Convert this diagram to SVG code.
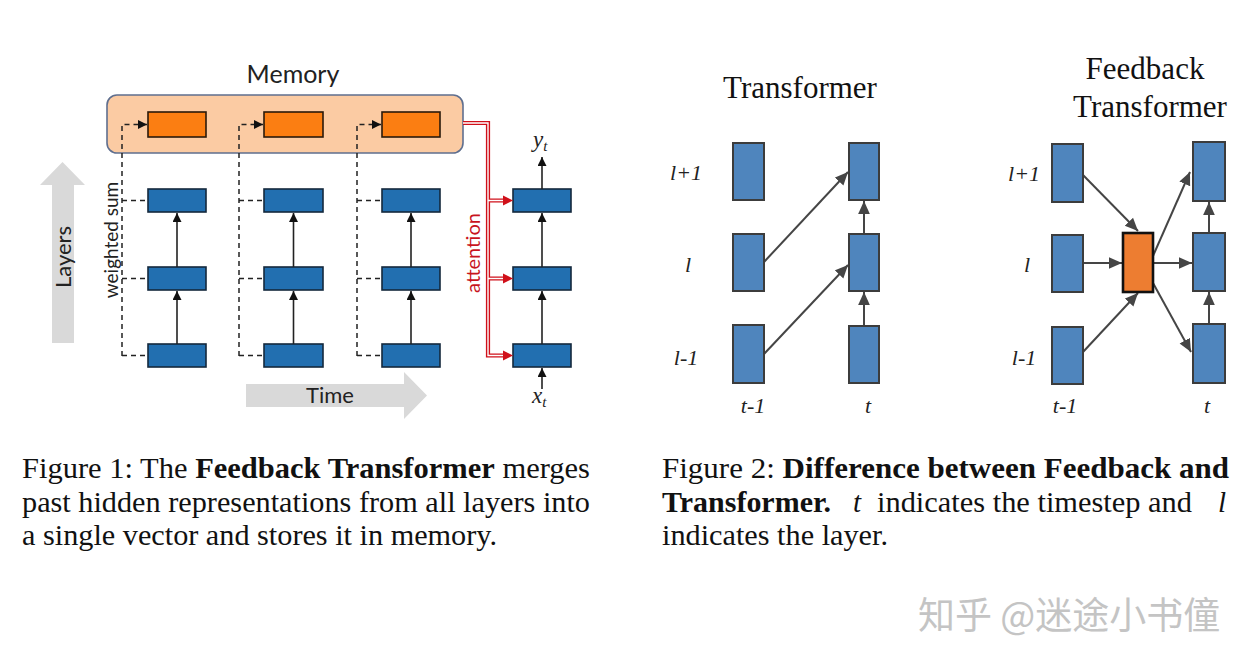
<svg xmlns="http://www.w3.org/2000/svg" width="1253" height="665" viewBox="0 0 1253 665">
<style>
.sans{font-family:Lato,"Open Sans","Liberation Sans",sans-serif}
.serif{font-family:"Liberation Serif","Times New Roman",serif}
.bl{fill:#226fb0;stroke:#14283c;stroke-width:1.6}
.or{fill:#fb7e12;stroke:#2a1a0a;stroke-width:1.6}
.sl{fill:none;stroke:#222;stroke-width:1.6}
.dl{fill:none;stroke:#222;stroke-width:1.5;stroke-dasharray:5 4}
.rb{fill:#4f85bd;stroke:#3c3c3c;stroke-width:2}
.ro{fill:#ed7d31;stroke:#111;stroke-width:2.6}
.ga{fill:none;stroke:#454545;stroke-width:2}
.cap{font-family:"Liberation Serif","Times New Roman",serif;font-size:29px;fill:#111}
</style>
<defs>
<marker id="ah" viewBox="0 0 10 10" refX="10" refY="5" markerWidth="9" markerHeight="9" markerUnits="userSpaceOnUse" orient="auto"><path d="M0,0 L10,5 L0,10 z" fill="#111"/></marker>
<marker id="ga" viewBox="0 0 10 10" refX="10" refY="5" markerWidth="13" markerHeight="13" markerUnits="userSpaceOnUse" orient="auto"><path d="M0,0.5 L10,5 L0,9.5 z" fill="#454545"/></marker>
</defs>
<rect width="1253" height="665" fill="#fff"/>

<!-- Figure 1 -->
<g id="layers-arrow">
<polygon points="52,343 52,185 40,185 62.5,162 85,185 74,185 74,343" fill="#d9d9d9"/>
<text class="sans" font-size="22" fill="#222" text-anchor="middle" transform="translate(71,257) rotate(-90)">Layers</text>
</g>
<g id="time-arrow">
<polygon points="246,384 404,384 404,372 427,395.5 404,419 404,407 246,407" fill="#d9d9d9"/>
<text class="sans" font-size="22" fill="#222" x="330" y="403" text-anchor="middle">Time</text>
</g>
<g id="memory">
<rect x="107" y="95" width="356" height="58" rx="10" fill="#fbcba3" stroke="#5f6f8f" stroke-width="1.6"/>
<text class="sans" font-size="25" fill="#222" x="293" y="83" text-anchor="middle">Memory</text>
<rect class="or" x="148" y="112" width="58" height="25"/>
<rect class="or" x="264" y="112" width="59" height="25"/>
<rect class="or" x="382" y="112" width="58" height="25"/>
</g>
<g id="col1">
<rect class="bl" x="148" y="189" width="58" height="23"/>
<rect class="bl" x="148" y="267" width="58" height="23"/>
<rect class="bl" x="148" y="344" width="58" height="23"/>
</g>
<g id="col2">
<rect class="bl" x="264" y="189" width="59" height="23"/>
<rect class="bl" x="264" y="267" width="59" height="23"/>
<rect class="bl" x="264" y="344" width="59" height="23"/>
</g>
<g id="col3">
<rect class="bl" x="382" y="189" width="58" height="23"/>
<rect class="bl" x="382" y="267" width="58" height="23"/>
<rect class="bl" x="382" y="344" width="58" height="23"/>
</g>
<g id="col4">
<rect class="bl" x="513" y="189" width="58" height="23"/>
<rect class="bl" x="513" y="267" width="58" height="23"/>
<rect class="bl" x="513" y="344" width="58" height="23"/>
<text class="serif" font-size="23" font-style="italic" fill="#222" x="533" y="147">y<tspan font-size="15" dy="4">t</tspan></text>
<text class="serif" font-size="23" font-style="italic" fill="#222" x="532" y="403">x<tspan font-size="15" dy="4">t</tspan></text>
</g>
<g id="labels1">
<text class="sans" font-size="19" fill="#222" text-anchor="middle" transform="translate(118,240) rotate(-90)">weighted sum</text>
<text class="sans" font-size="20" fill="#c8141e" text-anchor="middle" transform="translate(480,253) rotate(-90)">attention</text>
</g>
<g id="connectors">
<!-- vertical solid arrows -->
<path class="sl" d="M177,344 V291" marker-end="url(#ah)"/>
<path class="sl" d="M177,267 V213" marker-end="url(#ah)"/>
<path class="sl" d="M293.5,344 V291" marker-end="url(#ah)"/>
<path class="sl" d="M293.5,267 V213" marker-end="url(#ah)"/>
<path class="sl" d="M411,344 V291" marker-end="url(#ah)"/>
<path class="sl" d="M411,267 V213" marker-end="url(#ah)"/>
<path class="sl" d="M542,344 V291" marker-end="url(#ah)"/>
<path class="sl" d="M542,267 V213" marker-end="url(#ah)"/>
<path class="sl" d="M542,189 V157" marker-end="url(#ah)"/>
<path class="sl" d="M542,389 V368" marker-end="url(#ah)"/>
<!-- dashed weighted-sum lines -->
<path class="dl" d="M122,356 V124.5 H147" marker-end="url(#ah)"/>
<path class="dl" d="M122,200.5 H148 M122,278.5 H148 M122,355.5 H148"/>
<path class="dl" d="M239,356 V124.5 H263" marker-end="url(#ah)"/>
<path class="dl" d="M239,200.5 H264 M239,278.5 H264 M239,355.5 H264"/>
<path class="dl" d="M357,356 V124.5 H381" marker-end="url(#ah)"/>
<path class="dl" d="M357,200.5 H382 M357,278.5 H382 M357,355.5 H382"/>
<!-- red attention double line -->
<path d="M463,123 H488 V355.5 H506 M488,200.5 H506 M488,278.5 H506" fill="none" stroke="#d0101a" stroke-width="4.2"/>
<path d="M463,123 H488 V355.5 H506 M488,200.5 H506 M488,278.5 H506" fill="none" stroke="#fff" stroke-width="1.4"/>
<polygon points="503,195.5 513,200.5 503,205.5" fill="#d0101a"/>
<polygon points="503,273.5 513,278.5 503,283.5" fill="#d0101a"/>
<polygon points="503,350.5 513,355.5 503,360.5" fill="#d0101a"/>
<!-- Figure 2 transformer arrows -->
<path class="ga" d="M764,262 L848,172" marker-end="url(#ga)"/>
<path class="ga" d="M764,354 L848,265" marker-end="url(#ga)"/>
<path class="ga" d="M864,326 V292" marker-end="url(#ga)"/>
<path class="ga" d="M864,234 V201" marker-end="url(#ga)"/>
<!-- Figure 2 feedback arrows -->
<path class="ga" d="M1083,175 L1138,231" marker-end="url(#ga)"/>
<path class="ga" d="M1083,263 L1122,263" marker-end="url(#ga)"/>
<path class="ga" d="M1083,352 L1138,293" marker-end="url(#ga)"/>
<path class="ga" d="M1153,256 L1190,172" marker-end="url(#ga)"/>
<path class="ga" d="M1153,263 L1192,263" marker-end="url(#ga)"/>
<path class="ga" d="M1153,283 L1191,352" marker-end="url(#ga)"/>
<path class="ga" d="M1209,324 V292" marker-end="url(#ga)"/>
<path class="ga" d="M1209,233 V202" marker-end="url(#ga)"/>
</g>

<!-- Figure 2: Transformer -->
<g id="transformer">
<text class="serif" font-size="31" fill="#111" x="800" y="98" text-anchor="middle">Transformer</text>
<rect class="rb" x="733" y="143" width="31" height="57"/>
<rect class="rb" x="733" y="234" width="31" height="57"/>
<rect class="rb" x="733" y="325" width="31" height="58"/>
<rect class="rb" x="849" y="143" width="30" height="57"/>
<rect class="rb" x="849" y="234" width="30" height="57"/>
<rect class="rb" x="849" y="326" width="30" height="57"/>
<g class="serif" font-size="22" font-style="italic" fill="#222" text-anchor="middle">
<text x="686" y="180">l+1</text>
<text x="688" y="272">l</text>
<text x="686" y="365">l-1</text>
<text x="753" y="413">t-1</text>
<text x="868" y="413">t</text>
</g>
</g>

<!-- Figure 2: Feedback Transformer -->
<g id="feedback-transformer">
<text class="serif" font-size="31" fill="#111" x="1145" y="79" text-anchor="middle">Feedback</text>
<text class="serif" font-size="31" fill="#111" x="1150" y="117" text-anchor="middle">Transformer</text>
<rect class="rb" x="1052" y="144" width="31" height="58"/>
<rect class="rb" x="1052" y="235" width="31" height="57"/>
<rect class="rb" x="1052" y="327" width="31" height="57"/>
<rect class="rb" x="1193" y="142" width="32" height="59"/>
<rect class="rb" x="1193" y="233" width="32" height="58"/>
<rect class="rb" x="1193" y="324" width="32" height="59"/>
<rect class="ro" x="1123" y="233" width="30" height="59"/>
<g class="serif" font-size="22" font-style="italic" fill="#222" text-anchor="middle">
<text x="1024" y="181">l+1</text>
<text x="1027" y="272">l</text>
<text x="1024" y="365">l-1</text>
<text x="1065" y="413">t-1</text>
<text x="1207" y="413">t</text>
</g>
</g>

<!-- Captions -->
<g id="caption1" class="cap">
<text x="22" y="478" textLength="568" lengthAdjust="spacingAndGlyphs">Figure 1: The <tspan font-weight="bold">Feedback Transformer</tspan> merges</text>
<text x="22" y="512" textLength="568" lengthAdjust="spacingAndGlyphs">past hidden representations from all layers into</text>
<text x="22" y="545" textLength="475" lengthAdjust="spacingAndGlyphs">a single vector and stores it in memory.</text>
</g>
<g id="caption2" class="cap">
<text x="662" y="478" textLength="567" lengthAdjust="spacingAndGlyphs">Figure 2: <tspan font-weight="bold">Difference between Feedback and</tspan></text>
<text x="662" y="512" font-weight="bold" textLength="169" lengthAdjust="spacingAndGlyphs">Transformer.</text>
<text x="853" y="512" font-style="italic">t</text>
<text x="877" y="512" textLength="315" lengthAdjust="spacingAndGlyphs">indicates the timestep and</text>
<text x="1218" y="512" font-style="italic">l</text>
<text x="662" y="545" textLength="226" lengthAdjust="spacingAndGlyphs">indicates the layer.</text>
</g>
<g id="watermark">
<text x="918" y="629" font-family="'Noto Sans CJK SC',sans-serif" font-size="37" fill="#c4c4c4">知乎 @迷途小书僮</text>
</g>
</svg>
